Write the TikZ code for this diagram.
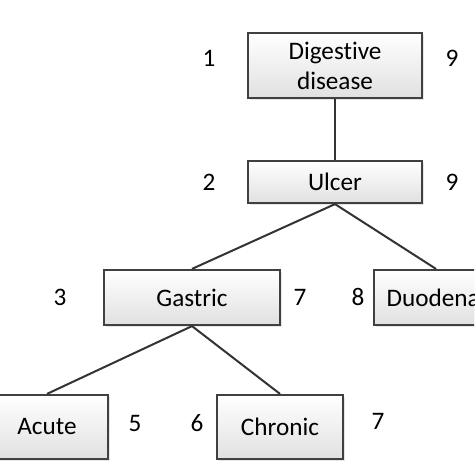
\documentclass[tikz,border=0pt]{standalone}
\usepackage{fontspec}
\setmainfont[Ligatures=NoCommon]{Carlito}
\usetikzlibrary{positioning,shadows}
\tikzset{
  box/.style={draw=black!75, line width=1.1pt, top color=white, bottom color=black!12,
    drop shadow={opacity=0.2, shadow xshift=0.8pt, shadow yshift=-0.8pt},
    align=center, inner sep=0pt, font=\fontsize{12.6}{15}\selectfont},
  num/.style={font=\fontsize{12.6}{15}\selectfont, inner sep=0pt},
  link/.style={draw=black!80, line width=1pt}
}
\begin{document}
\begin{tikzpicture}[x=0.5pt,y=-0.5pt]
            \useasboundingbox (0,0) rectangle (474,474);
            \clip (0,0) rectangle (474,474);
            \node[box, minimum width=87pt, minimum height=32.5pt] (dig) at (335,65.5) {Digestive\\disease};
            \node[box, minimum width=87pt, minimum height=21pt] (ulcer) at (335,182) {Ulcer};
            \node[box, minimum width=88pt, minimum height=27.5pt] (gastric) at (192,297.5) {Gastric};
            \node[box, minimum width=62pt, minimum height=27.5pt] (duod) at (436,297.5) {Duodenal};
            \node[box, minimum width=61pt, minimum height=32pt] (acute) at (47,427) {Acute};
            \node[box, minimum width=63pt, minimum height=32pt] (chronic) at (280,427) {Chronic};
            \draw[link] (dig) -- (ulcer);
            \draw[link] (ulcer.south) -- (gastric.north);
            \draw[link] (ulcer.south) -- (duod.north);
            \draw[link] (gastric.south) -- (acute.north);
            \draw[link] (gastric.south) -- (chronic.north);
            \node[num] (n1) at (209,58) {1};
            \node[num] (n9a) at (452,58) {9};
            \node[num] (n2) at (209,182) {2};
            \node[num] (n9b) at (452,182) {9};
            \node[num] (n3) at (60,297) {3};
            \node[num] (n7a) at (300,297) {7};
            \node[num] (n8) at (358,297) {8};
            \node[num] (n5) at (135,423) {5};
            \node[num] (n6) at (197,423) {6};
            \node[num] (n7b) at (378,421) {7};
\end{tikzpicture}
\end{document}
